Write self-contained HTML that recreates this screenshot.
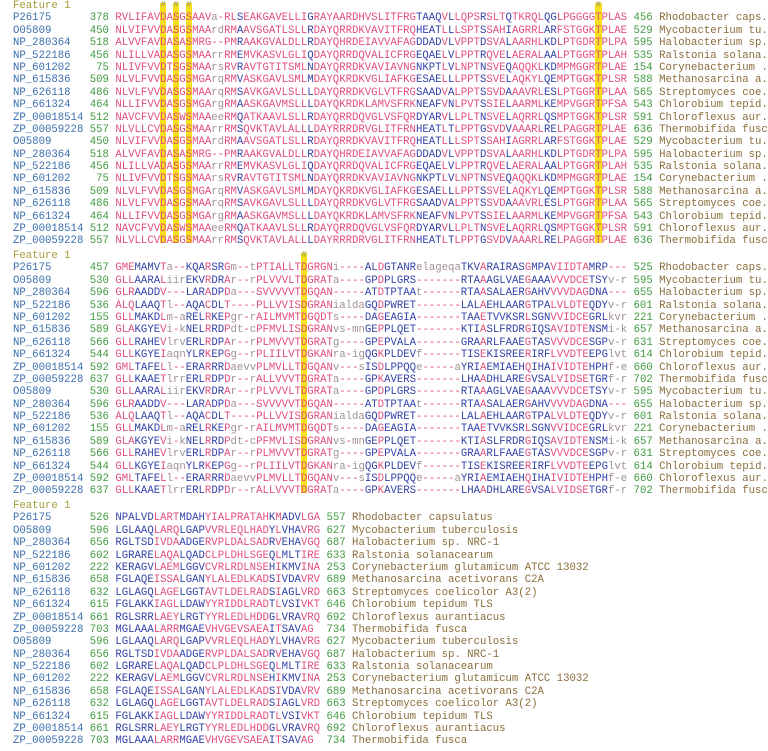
<!DOCTYPE html>
<html><head><meta charset="utf-8"><style>
html,body{margin:0;padding:0;background:#fff;width:768px;height:751px;overflow:hidden;position:relative}
.blk{position:absolute;left:13px;width:760px;font-family:"Liberation Mono",monospace;font-size:10.67px;line-height:12.4px;white-space:normal}
.blk div{height:12.4px;line-height:12.4px;white-space:pre;position:relative;z-index:2;overflow:hidden}
.n{color:#3b6eae}.c{color:#3f9a3f}.p{color:#8a6d3b}.f{color:#a59c3a}
.s{color:#e24f7c}.s b{color:#3343a8;font-weight:normal}.s i{color:#a09090;font-style:normal}
.y{position:absolute;background:#f6e01c;width:6.4px;z-index:1}
.h{position:absolute;color:#9a9060;font-family:"Liberation Mono",monospace;font-size:9px;z-index:2}
</style></head><body>
<div class="y" style="left:160px;top:3px;height:240px"></div>
<div class="y" style="left:172.8px;top:3px;height:240px"></div>
<div class="y" style="left:185.6px;top:3px;height:240px"></div>
<div class="y" style="left:595.2px;top:3px;height:240px"></div>
<div class="h" style="left:160.5px;top:0px">#</div>
<div class="h" style="left:173.3px;top:0px">#</div>
<div class="h" style="left:186.1px;top:0px">#</div>
<div class="h" style="left:595.7px;top:0px">#</div>
<div class="y" style="left:300.8px;top:253px;height:240px"></div>
<div class="h" style="left:301.3px;top:250px">#</div>

<div class="blk" style="top:0">
<div><span class="f">Feature 1</span></div>
<div><span class="n">P26175     </span> <span class="c">378</span> <span class="s">RVLIFAVDASGSAAV<i>a</i>-RL<b>S</b>EAKGAVELLI<b>G</b>RAYAARDHVSLITFRG<b>TAAQ</b>V<b>L</b>LQPS<b>R</b>SLT<b>Q</b>TKRQL<b>QG</b>LPGGGGTPLAS</span> <span class="c">456</span> <span class="p">Rhodobacter caps.</span></div>
<div><span class="n">O05809     </span> <span class="c">450</span> <span class="s">NLVIFVVDASGSMAA<i>rd</i>RM<b>A</b>AVSGATLSLL<b>R</b>DAYQRRDKVAVITFRQ<b>HEAT</b>L<b>L</b>LSPT<b>S</b>SAH<b>I</b>AGRRL<b>AR</b>FSTGGKTPLAE</span> <span class="c">529</span> <span class="p">Mycobacterium tu.</span></div>
<div><span class="n">NP_280364  </span> <span class="c">518</span> <span class="s">ALVVFAVDASASMRG--PM<b>R</b>AAKGVALDLL<b>R</b>DAYQHRDEIAVVAFAG<b>DDAD</b>V<b>L</b>VPPT<b>D</b>SVA<b>L</b>AARHL<b>KD</b>LPTGDRTPLPA</span> <span class="c">595</span> <span class="p">Halobacterium sp.</span></div>
<div><span class="n">NP_522186  </span> <span class="c">456</span> <span class="s">NLILLVADASGSMAA<i>rr</i>RM<b>E</b>MVKASVLGLI<b>Q</b>DAYQRRDQVALICFRG<b>EQAE</b>L<b>V</b>LPPT<b>R</b>QVE<b>L</b>AERAL<b>AA</b>LPTGGRTPLAH</span> <span class="c">535</span> <span class="p">Ralstonia solana.</span></div>
<div><span class="n">NP_601202  </span> <span class="c"> 75</span> <span class="s">NLIVFVVDTSGSMAA<i>rs</i>RV<b>R</b>AVTGTITSML<b>N</b>DAYQRRDKVAVIAVNG<b>NKPT</b>L<b>V</b>LNPT<b>N</b>SVE<b>Q</b>AQQKL<b>KD</b>MPMGGRTPLAE</span> <span class="c">154</span> <span class="p">Corynebacterium .</span></div>
<div><span class="n">NP_615836  </span> <span class="c">509</span> <span class="s">NLVLFVVDASGSMGA<i>rq</i>RM<b>V</b>ASKGAVLSML<b>M</b>DAYQKRDKVGLIAFKG<b>ESAE</b>L<b>L</b>LPPT<b>S</b>SVE<b>L</b>AQKYL<b>QE</b>MPTGGKTPLSR</span> <span class="c">588</span> <span class="p">Methanosarcina a.</span></div>
<div><span class="n">NP_626118  </span> <span class="c">486</span> <span class="s">NLVLFVVDASGSMAA<i>rq</i>RM<b>S</b>AVKGAVLSLL<b>L</b>DAYQRRDKVGLVTFRG<b>SAAD</b>V<b>A</b>LPPT<b>S</b>SVD<b>A</b>AAVRL<b>ES</b>LPTGGRTPLAA</span> <span class="c">565</span> <span class="p">Streptomyces coe.</span></div>
<div><span class="n">NP_661324  </span> <span class="c">464</span> <span class="s">NLLIFVVDASGSMGA<i>rg</i>RM<b>A</b>ASKGAVMSLL<b>L</b>DAYQKRDKLAMVSFRK<b>NEAF</b>V<b>N</b>LPVT<b>S</b>SIE<b>L</b>AARML<b>KE</b>MPVGGRTPFSA</span> <span class="c">543</span> <span class="p">Chlorobium tepid.</span></div>
<div><span class="n">ZP_00018514</span> <span class="c">512</span> <span class="s">NAVCFVVDASWSMAA<i>ee</i>RM<b>Q</b>ATKAAVLSLL<b>R</b>DAYQRRDQVGLVSFQR<b>DYAR</b>V<b>L</b>LPLT<b>N</b>SVE<b>L</b>AQRRL<b>QS</b>MPTGGKTPLSR</span> <span class="c">591</span> <span class="p">Chloroflexus aur.</span></div>
<div><span class="n">ZP_00059228</span> <span class="c">557</span> <span class="s">NLVLLCVDASGSMAA<i>rr</i>RM<b>S</b>QVKTAVLALL<b>L</b>DAYRRRDRVGLITFRN<b>HEAT</b>L<b>T</b>LPPT<b>G</b>SVD<b>V</b>AAARL<b>RE</b>LPAGGRTPLAE</span> <span class="c">636</span> <span class="p">Thermobifida fusca</span></div>
<div><span class="n">O05809     </span> <span class="c">450</span> <span class="s">NLVIFVVDASGSMAA<i>rd</i>RM<b>A</b>AVSGATLSLL<b>R</b>DAYQRRDKVAVITFRQ<b>HEAT</b>L<b>L</b>LSPT<b>S</b>SAH<b>I</b>AGRRL<b>AR</b>FSTGGKTPLAE</span> <span class="c">529</span> <span class="p">Mycobacterium tu.</span></div>
<div><span class="n">NP_280364  </span> <span class="c">518</span> <span class="s">ALVVFAVDASASMRG--PM<b>R</b>AAKGVALDLL<b>R</b>DAYQHRDEIAVVAFAG<b>DDAD</b>V<b>L</b>VPPT<b>D</b>SVA<b>L</b>AARHL<b>KD</b>LPTGDRTPLPA</span> <span class="c">595</span> <span class="p">Halobacterium sp.</span></div>
<div><span class="n">NP_522186  </span> <span class="c">456</span> <span class="s">NLILLVADASGSMAA<i>rr</i>RM<b>E</b>MVKASVLGLI<b>Q</b>DAYQRRDQVALICFRG<b>EQAE</b>L<b>V</b>LPPT<b>R</b>QVE<b>L</b>AERAL<b>AA</b>LPTGGRTPLAH</span> <span class="c">535</span> <span class="p">Ralstonia solana.</span></div>
<div><span class="n">NP_601202  </span> <span class="c"> 75</span> <span class="s">NLIVFVVDTSGSMAA<i>rs</i>RV<b>R</b>AVTGTITSML<b>N</b>DAYQRRDKVAVIAVNG<b>NKPT</b>L<b>V</b>LNPT<b>N</b>SVE<b>Q</b>AQQKL<b>KD</b>MPMGGRTPLAE</span> <span class="c">154</span> <span class="p">Corynebacterium .</span></div>
<div><span class="n">NP_615836  </span> <span class="c">509</span> <span class="s">NLVLFVVDASGSMGA<i>rq</i>RM<b>V</b>ASKGAVLSML<b>M</b>DAYQKRDKVGLIAFKG<b>ESAE</b>L<b>L</b>LPPT<b>S</b>SVE<b>L</b>AQKYL<b>QE</b>MPTGGKTPLSR</span> <span class="c">588</span> <span class="p">Methanosarcina a.</span></div>
<div><span class="n">NP_626118  </span> <span class="c">486</span> <span class="s">NLVLFVVDASGSMAA<i>rq</i>RM<b>S</b>AVKGAVLSLL<b>L</b>DAYQRRDKVGLVTFRG<b>SAAD</b>V<b>A</b>LPPT<b>S</b>SVD<b>A</b>AAVRL<b>ES</b>LPTGGRTPLAA</span> <span class="c">565</span> <span class="p">Streptomyces coe.</span></div>
<div><span class="n">NP_661324  </span> <span class="c">464</span> <span class="s">NLLIFVVDASGSMGA<i>rg</i>RM<b>A</b>ASKGAVMSLL<b>L</b>DAYQKRDKLAMVSFRK<b>NEAF</b>V<b>N</b>LPVT<b>S</b>SIE<b>L</b>AARML<b>KE</b>MPVGGRTPFSA</span> <span class="c">543</span> <span class="p">Chlorobium tepid.</span></div>
<div><span class="n">ZP_00018514</span> <span class="c">512</span> <span class="s">NAVCFVVDASWSMAA<i>ee</i>RM<b>Q</b>ATKAAVLSLL<b>R</b>DAYQRRDQVGLVSFQR<b>DYAR</b>V<b>L</b>LPLT<b>N</b>SVE<b>L</b>AQRRL<b>QS</b>MPTGGKTPLSR</span> <span class="c">591</span> <span class="p">Chloroflexus aur.</span></div>
<div><span class="n">ZP_00059228</span> <span class="c">557</span> <span class="s">NLVLLCVDASGSMAA<i>rr</i>RM<b>S</b>QVKTAVLALL<b>L</b>DAYRRRDRVGLITFRN<b>HEAT</b>L<b>T</b>LPPT<b>G</b>SVD<b>V</b>AAARL<b>RE</b>LPAGGRTPLAE</span> <span class="c">636</span> <span class="p">Thermobifida fusca</span></div>
</div>

<div class="blk" style="top:250px">
<div><span class="f">Feature 1</span></div>
<div><span class="n">P26175     </span> <span class="c">457</span> <span class="s">GME<b>MAMV</b>T<i>a</i>--<b>KQA</b>R<b>SR</b>G<i>m</i>--<i>t</i>PTIALLTDGRGN<i>i</i>----<b>AL</b>D<b>GTANR</b><i>elageqa</i><b>TKV</b>A<b>RAIRAS</b>G<b>MPA</b>VIIDTA<b>MRP</b>---</span> <span class="c">525</span> <span class="p">Rhodobacter caps.</span></div>
<div><span class="n">O05809     </span> <span class="c">530</span> <span class="s">GLL<b>AARA</b>L<i>iir</i><b>EKV</b>R<b>DR</b>A<i>r</i>--<i>r</i>PLVVVLTDGRAT<i>a</i>----<b>GP</b>D<b>PLGRS</b>-------<b>RTA</b>A<b>AGLVAE</b>G<b>AAA</b>VVVDCE<b>TSY</b><i>v-r</i></span> <span class="c">595</span> <span class="p">Mycobacterium tu.</span></div>
<div><span class="n">NP_280364  </span> <span class="c">596</span> <span class="s">GLR<b>AADD</b>V---<b>LAR</b>A<b>DP</b>D<i>a</i>---SVVVVVTDGQAN-----<b>AT</b>D<b>TPTAA</b><i>t</i>------<b>RTA</b>A<b>SALAER</b>G<b>AHV</b>VVVDAG<b>DNA</b>---</span> <span class="c">655</span> <span class="p">Halobacterium sp.</span></div>
<div><span class="n">NP_522186  </span> <span class="c">536</span> <span class="s">ALQ<b>LAAQ</b>T<i>l</i>--<b>AQA</b>C<b>DL</b>T----PLLVVISDGRAN<i>ialda</i><b>GQ</b>D<b>PWRET</b>-------<b>LAL</b>A<b>EHLAAR</b>G<b>TPA</b>LVLDTE<b>QDY</b><i>v-r</i></span> <span class="c">601</span> <span class="p">Ralstonia solana.</span></div>
<div><span class="n">NP_601202  </span> <span class="c">155</span> <span class="s">GLL<b>MAKD</b>L<i>m</i>-<i>a</i><b>REL</b>R<b>KE</b>P<i>gr</i>-<i>r</i>AILMVMTDGQDT<i>s</i>----<b>DA</b>G<b>EAGIA</b>-------<b>TAA</b>E<b>TVVKSR</b>L<b>SGN</b>VVIDCE<b>GRL</b><i>kvr</i></span> <span class="c">221</span> <span class="p">Corynebacterium .</span></div>
<div><span class="n">NP_615836  </span> <span class="c">589</span> <span class="s">GLA<b>KGYE</b>V<i>i</i>-<i>k</i><b>NEL</b>R<b>RD</b>P<i>dt</i>-<i>c</i>PFMVLISDGRAN<i>vs</i>-<i>mn</i><b>GE</b>P<b>PLQET</b>-------<b>KTI</b>A<b>SLFRDR</b>G<b>IQS</b>AVIDTE<b>NSM</b><i>i-k</i></span> <span class="c">657</span> <span class="p">Methanosarcina a.</span></div>
<div><span class="n">NP_626118  </span> <span class="c">566</span> <span class="s">GLL<b>RAHE</b>V<i>lrv</i><b>ERL</b>R<b>DP</b>A<i>r</i>--<i>r</i>PLMVVVTDGRAT<i>g</i>----<b>GP</b>E<b>PVALA</b>-------<b>GRA</b>A<b>RLFAAE</b>G<b>TAS</b>VVVDCE<b>SGP</b><i>v-r</i></span> <span class="c">631</span> <span class="p">Streptomyces coe.</span></div>
<div><span class="n">NP_661324  </span> <span class="c">544</span> <span class="s">GLL<b>KGYE</b>I<i>aqn</i><b>YLR</b>K<b>EP</b>G<i>g</i>--<i>r</i>PLIILVTDGKAN<i>ra</i>-<i>ig</i><b>QG</b>K<b>PLDEV</b><i>f</i>------<b>TIS</b>E<b>KISREE</b>R<b>IRF</b>LVVDTE<b>EPG</b><i>lvt</i></span> <span class="c">614</span> <span class="p">Chlorobium tepid.</span></div>
<div><span class="n">ZP_00018514</span> <span class="c">592</span> <span class="s">GML<b>TAFE</b>L<i>l</i>--<b>ERA</b>R<b>RR</b>D<i>aevv</i>PLMVLLTDGQAN<i>v</i>---<i>s</i><b>IS</b>D<b>LPPQQ</b><i>e</i>-----<i>a</i><b>YRI</b>A<b>EMIAEH</b>Q<b>IHA</b>IVIDTE<b>HPH</b><i>f-e</i></span> <span class="c">660</span> <span class="p">Chloroflexus aur.</span></div>
<div><span class="n">ZP_00059228</span> <span class="c">637</span> <span class="s">GLL<b>KAAE</b>T<i>lrr</i><b>ERL</b>R<b>DP</b>D<i>r</i>--<i>r</i>ALLVVVTDGRAT<i>a</i>----<b>GP</b>K<b>AVERS</b>-------<b>LHA</b>A<b>DHLARE</b>G<b>VSA</b>LVIDSE<b>TGR</b><i>f-r</i></span> <span class="c">702</span> <span class="p">Thermobifida fusca</span></div>
<div><span class="n">O05809     </span> <span class="c">530</span> <span class="s">GLL<b>AARA</b>L<i>iir</i><b>EKV</b>R<b>DR</b>A<i>r</i>--<i>r</i>PLVVVLTDGRAT<i>a</i>----<b>GP</b>D<b>PLGRS</b>-------<b>RTA</b>A<b>AGLVAE</b>G<b>AAA</b>VVVDCE<b>TSY</b><i>v-r</i></span> <span class="c">595</span> <span class="p">Mycobacterium tu.</span></div>
<div><span class="n">NP_280364  </span> <span class="c">596</span> <span class="s">GLR<b>AADD</b>V---<b>LAR</b>A<b>DP</b>D<i>a</i>---SVVVVVTDGQAN-----<b>AT</b>D<b>TPTAA</b><i>t</i>------<b>RTA</b>A<b>SALAER</b>G<b>AHV</b>VVVDAG<b>DNA</b>---</span> <span class="c">655</span> <span class="p">Halobacterium sp.</span></div>
<div><span class="n">NP_522186  </span> <span class="c">536</span> <span class="s">ALQ<b>LAAQ</b>T<i>l</i>--<b>AQA</b>C<b>DL</b>T----PLLVVISDGRAN<i>ialda</i><b>GQ</b>D<b>PWRET</b>-------<b>LAL</b>A<b>EHLAAR</b>G<b>TPA</b>LVLDTE<b>QDY</b><i>v-r</i></span> <span class="c">601</span> <span class="p">Ralstonia solana.</span></div>
<div><span class="n">NP_601202  </span> <span class="c">155</span> <span class="s">GLL<b>MAKD</b>L<i>m</i>-<i>a</i><b>REL</b>R<b>KE</b>P<i>gr</i>-<i>r</i>AILMVMTDGQDT<i>s</i>----<b>DA</b>G<b>EAGIA</b>-------<b>TAA</b>E<b>TVVKSR</b>L<b>SGN</b>VVIDCE<b>GRL</b><i>kvr</i></span> <span class="c">221</span> <span class="p">Corynebacterium .</span></div>
<div><span class="n">NP_615836  </span> <span class="c">589</span> <span class="s">GLA<b>KGYE</b>V<i>i</i>-<i>k</i><b>NEL</b>R<b>RD</b>P<i>dt</i>-<i>c</i>PFMVLISDGRAN<i>vs</i>-<i>mn</i><b>GE</b>P<b>PLQET</b>-------<b>KTI</b>A<b>SLFRDR</b>G<b>IQS</b>AVIDTE<b>NSM</b><i>i-k</i></span> <span class="c">657</span> <span class="p">Methanosarcina a.</span></div>
<div><span class="n">NP_626118  </span> <span class="c">566</span> <span class="s">GLL<b>RAHE</b>V<i>lrv</i><b>ERL</b>R<b>DP</b>A<i>r</i>--<i>r</i>PLMVVVTDGRAT<i>g</i>----<b>GP</b>E<b>PVALA</b>-------<b>GRA</b>A<b>RLFAAE</b>G<b>TAS</b>VVVDCE<b>SGP</b><i>v-r</i></span> <span class="c">631</span> <span class="p">Streptomyces coe.</span></div>
<div><span class="n">NP_661324  </span> <span class="c">544</span> <span class="s">GLL<b>KGYE</b>I<i>aqn</i><b>YLR</b>K<b>EP</b>G<i>g</i>--<i>r</i>PLIILVTDGKAN<i>ra</i>-<i>ig</i><b>QG</b>K<b>PLDEV</b><i>f</i>------<b>TIS</b>E<b>KISREE</b>R<b>IRF</b>LVVDTE<b>EPG</b><i>lvt</i></span> <span class="c">614</span> <span class="p">Chlorobium tepid.</span></div>
<div><span class="n">ZP_00018514</span> <span class="c">592</span> <span class="s">GML<b>TAFE</b>L<i>l</i>--<b>ERA</b>R<b>RR</b>D<i>aevv</i>PLMVLLTDGQAN<i>v</i>---<i>s</i><b>IS</b>D<b>LPPQQ</b><i>e</i>-----<i>a</i><b>YRI</b>A<b>EMIAEH</b>Q<b>IHA</b>IVIDTE<b>HPH</b><i>f-e</i></span> <span class="c">660</span> <span class="p">Chloroflexus aur.</span></div>
<div><span class="n">ZP_00059228</span> <span class="c">637</span> <span class="s">GLL<b>KAAE</b>T<i>lrr</i><b>ERL</b>R<b>DP</b>D<i>r</i>--<i>r</i>ALLVVVTDGRAT<i>a</i>----<b>GP</b>K<b>AVERS</b>-------<b>LHA</b>A<b>DHLARE</b>G<b>VSA</b>LVIDSE<b>TGR</b><i>f-r</i></span> <span class="c">702</span> <span class="p">Thermobifida fusca</span></div>
</div>

<div class="blk" style="top:500px">
<div><span class="f">Feature 1</span></div>
<div><span class="n">P26175     </span> <span class="c">526</span> <span class="s"><b>NPALVD</b>LART<b>MDAH</b>YIALPRATAH<b>K</b>M<b>ADV</b>LGA</span> <span class="c">557</span> <span class="p">Rhodobacter capsulatus</span></div>
<div><span class="n">O05809     </span> <span class="c">596</span> <span class="s"><b>LGLAAQ</b>LARQ<b>LGAP</b>VVRLEQLHAD<b>Y</b>L<b>VHA</b>VRG</span> <span class="c">627</span> <span class="p">Mycobacterium tuberculosis</span></div>
<div><span class="n">NP_280364  </span> <span class="c">656</span> <span class="s"><b>RGLTSD</b>IVDA<b>ADGE</b>RVPLDALSAD<b>R</b>V<b>EHA</b>VGQ</span> <span class="c">687</span> <span class="p">Halobacterium sp. NRC-1</span></div>
<div><span class="n">NP_522186  </span> <span class="c">602</span> <span class="s"><b>LGRARE</b>LAQA<b>LQAD</b>CLPLDHLSGE<b>Q</b>L<b>MLT</b>IRE</span> <span class="c">633</span> <span class="p">Ralstonia solanacearum</span></div>
<div><span class="n">NP_601202  </span> <span class="c">222</span> <span class="s"><b>KERAGV</b>LAEM<b>LGGV</b>CVRLRDLNSE<b>H</b>I<b>KMV</b>INA</span> <span class="c">253</span> <span class="p">Corynebacterium glutamicum ATCC 13032</span></div>
<div><span class="n">NP_615836  </span> <span class="c">658</span> <span class="s"><b>FGLAQE</b>ISSA<b>LGAN</b>YLALEDLKAD<b>S</b>I<b>VDA</b>VRV</span> <span class="c">689</span> <span class="p">Methanosarcina acetivorans C2A</span></div>
<div><span class="n">NP_626118  </span> <span class="c">632</span> <span class="s"><b>LGLAGQ</b>LAGE<b>LGGT</b>AVTLDELRAD<b>S</b>I<b>AGL</b>VRD</span> <span class="c">663</span> <span class="p">Streptomyces coelicolor A3(2)</span></div>
<div><span class="n">NP_661324  </span> <span class="c">615</span> <span class="s"><b>FGLAKK</b>IAGL<b>LDAW</b>YYRIDDLRAD<b>T</b>L<b>VSI</b>VKT</span> <span class="c">646</span> <span class="p">Chlorobium tepidum TLS</span></div>
<div><span class="n">ZP_00018514</span> <span class="c">661</span> <span class="s"><b>RGLSRR</b>LAEY<b>LRGT</b>YYRLEDLHDD<b>G</b>L<b>VRA</b>VRQ</span> <span class="c">692</span> <span class="p">Chloroflexus aurantiacus</span></div>
<div><span class="n">ZP_00059228</span> <span class="c">703</span> <span class="s"><b>MGLAAA</b>LARR<b>MGAE</b>VHVGEVSAEA<b>I</b>T<b>SAV</b>AG </span> <span class="c">734</span> <span class="p">Thermobifida fusca</span></div>
<div><span class="n">O05809     </span> <span class="c">596</span> <span class="s"><b>LGLAAQ</b>LARQ<b>LGAP</b>VVRLEQLHAD<b>Y</b>L<b>VHA</b>VRG</span> <span class="c">627</span> <span class="p">Mycobacterium tuberculosis</span></div>
<div><span class="n">NP_280364  </span> <span class="c">656</span> <span class="s"><b>RGLTSD</b>IVDA<b>ADGE</b>RVPLDALSAD<b>R</b>V<b>EHA</b>VGQ</span> <span class="c">687</span> <span class="p">Halobacterium sp. NRC-1</span></div>
<div><span class="n">NP_522186  </span> <span class="c">602</span> <span class="s"><b>LGRARE</b>LAQA<b>LQAD</b>CLPLDHLSGE<b>Q</b>L<b>MLT</b>IRE</span> <span class="c">633</span> <span class="p">Ralstonia solanacearum</span></div>
<div><span class="n">NP_601202  </span> <span class="c">222</span> <span class="s"><b>KERAGV</b>LAEM<b>LGGV</b>CVRLRDLNSE<b>H</b>I<b>KMV</b>INA</span> <span class="c">253</span> <span class="p">Corynebacterium glutamicum ATCC 13032</span></div>
<div><span class="n">NP_615836  </span> <span class="c">658</span> <span class="s"><b>FGLAQE</b>ISSA<b>LGAN</b>YLALEDLKAD<b>S</b>I<b>VDA</b>VRV</span> <span class="c">689</span> <span class="p">Methanosarcina acetivorans C2A</span></div>
<div><span class="n">NP_626118  </span> <span class="c">632</span> <span class="s"><b>LGLAGQ</b>LAGE<b>LGGT</b>AVTLDELRAD<b>S</b>I<b>AGL</b>VRD</span> <span class="c">663</span> <span class="p">Streptomyces coelicolor A3(2)</span></div>
<div><span class="n">NP_661324  </span> <span class="c">615</span> <span class="s"><b>FGLAKK</b>IAGL<b>LDAW</b>YYRIDDLRAD<b>T</b>L<b>VSI</b>VKT</span> <span class="c">646</span> <span class="p">Chlorobium tepidum TLS</span></div>
<div><span class="n">ZP_00018514</span> <span class="c">661</span> <span class="s"><b>RGLSRR</b>LAEY<b>LRGT</b>YYRLEDLHDD<b>G</b>L<b>VRA</b>VRQ</span> <span class="c">692</span> <span class="p">Chloroflexus aurantiacus</span></div>
<div><span class="n">ZP_00059228</span> <span class="c">703</span> <span class="s"><b>MGLAAA</b>LARR<b>MGAE</b>VHVGEVSAEA<b>I</b>T<b>SAV</b>AG </span> <span class="c">734</span> <span class="p">Thermobifida fusca</span></div>
</div>
</body></html>
